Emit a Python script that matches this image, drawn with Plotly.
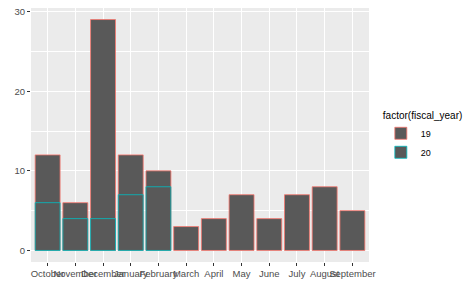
import plotly.graph_objects as go

months = ["October", "November", "December", "January", "February", "March",
          "April", "May", "June", "July", "August", "September"]
fy19 = [12, 6, 29, 12, 10, 3, 4, 7, 4, 7, 8, 5]
months20 = ["October", "November", "December", "January", "February"]
fy20 = [6, 4, 4, 7, 8]

fig = go.Figure()
fig.add_trace(go.Bar(x=months, y=fy19, name="19", width=0.9,
                     marker=dict(color="#595959", line=dict(color="#F8766D", width=0.8))))
fig.add_trace(go.Bar(x=months20, y=fy20, name="20", width=0.9,
                     marker=dict(color="#595959", line=dict(color="#00BFC4", width=0.8))))

fig.update_layout(
    width=474, height=292,
    margin=dict(l=31, r=105, t=6, b=30),
    barmode="overlay",
    paper_bgcolor="white",
    plot_bgcolor="#EBEBEB",
    font=dict(family="Liberation Sans, Arial, sans-serif", size=10, color="#4D4D4D"),
    legend=dict(
        title=dict(text="factor(fiscal_year)", font=dict(size=10, color="#000000")),
        x=1.035, y=0.615, xanchor="left", yanchor="top",
        font=dict(size=9, color="#000000"),
        tracegroupgap=0, itemwidth=30,
        bgcolor="rgba(0,0,0,0)",
    ),
    xaxis=dict(
        categoryorder="array", categoryarray=months,
        range=[-0.6, 11.6],
        showgrid=True, gridcolor="white", gridwidth=1.1,
        ticks="outside", ticklen=3, tickcolor="#333333",
        tickfont=dict(size=9.5, color="#4D4D4D"),
        zeroline=False, showline=False,
        tickangle=0,
    ),
    yaxis=dict(
        range=[-1.45, 30.45],
        tickvals=[0, 10, 20, 30],
        showgrid=True, gridcolor="white", gridwidth=1.1,
        minor=dict(tickvals=[5, 15, 25], showgrid=True, gridcolor="white", gridwidth=0.5),
        ticks="outside", ticklen=3, tickcolor="#333333",
        tickfont=dict(size=9.5, color="#4D4D4D"),
        zeroline=False, showline=False,
    ),
)

fig.write_html("out.html")
